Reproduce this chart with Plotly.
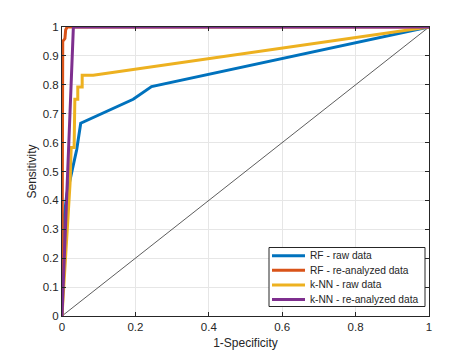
import plotly.graph_objects as go

rf_raw_x = [0, 0.005, 0.013, 0.04, 0.051, 0.194, 0.244, 1]
rf_raw_y = [0, 0.33, 0.42, 0.575, 0.667, 0.75, 0.794, 1]

rf_re_x = [0, 0.002, 0.008, 0.01, 0.014, 0.02, 1]
rf_re_y = [0, 0.95, 0.96, 0.99, 1, 1, 1]

knn_raw_x = [0, 0.015, 0.022, 0.025, 0.033, 0.035, 0.043, 0.043, 0.055, 0.055, 0.085, 1]
knn_raw_y = [0, 0.3, 0.46, 0.583, 0.583, 0.75, 0.75, 0.792, 0.792, 0.833, 0.833, 1]

knn_re_x = [0, 0.031, 1]
knn_re_y = [0, 1, 1]

diag_x = [0, 1]
diag_y = [0, 1]

x_ticks = [0, 0.2, 0.4, 0.6, 0.8, 1]
x_labels = ["0", "0.2", "0.4", "0.6", "0.8", "1"]
y_ticks = [0, 0.1, 0.2, 0.3, 0.4, 0.5, 0.6, 0.7, 0.8, 0.9, 1]
y_labels = ["0", "0.1", "0.2", "0.3", "0.4", "0.5", "0.6", "0.7", "0.8", "0.9", "1"]

series_names = ["RF - raw data", "RF - re-analyzed data", "k-NN - raw data", "k-NN - re-analyzed data"]
series_x = [rf_raw_x, rf_re_x, knn_raw_x, knn_re_x]
series_y = [rf_raw_y, rf_re_y, knn_raw_y, knn_re_y]
series_colors = ["#0072BD", "#D95319", "#EDB120", "#7E2F8E"]

FONT = "Liberation Sans, Arial, Helvetica, sans-serif"
TXT = "#262626"

fig = go.Figure()
fig.add_trace(go.Scatter(x=diag_x, y=diag_y, mode="lines", showlegend=False,
                         line=dict(color="#333333", width=0.8), hoverinfo="skip"))
for name, xs, ys, col in zip(series_names, series_x, series_y, series_colors):
    fig.add_trace(go.Scatter(x=xs, y=ys, mode="lines", name=name, showlegend=False,
                             line=dict(color=col, width=3)))

axis_common = dict(
    range=[0, 1], showgrid=True, gridcolor="#e6e6e6", gridwidth=1,
    zeroline=False, showline=True, linecolor=TXT, linewidth=1,
    mirror="ticks", ticks="inside", ticklen=4, tickcolor=TXT,
    tickfont=dict(family=FONT, size=11.5, color=TXT), automargin=False,
)

# Legend drawn as a box with line samples and text labels (MATLAB-style compact legend)
W, H = 474, 355
L, R, T, B = 62, 45, 27, 39
pw, ph = W - L - R, H - T - B

def px2x(px):
    return (px - L) / pw

def py2y(py):
    return (H - B - py) / ph

shapes = [dict(type="rect", xref="paper", yref="paper",
               x0=px2x(269), x1=px2x(425), y0=py2y(306.5), y1=py2y(247.5),
               line=dict(color=TXT, width=1), fillcolor="white", layer="above")]
annotations = []
row_py = [255.7, 270.3, 284.9, 299.5]
for name, col, rp in zip(series_names, series_colors, row_py):
    shapes.append(dict(type="line", xref="paper", yref="paper",
                       x0=px2x(272), x1=px2x(305), y0=py2y(rp), y1=py2y(rp),
                       line=dict(color=col, width=3), layer="above"))
    annotations.append(dict(xref="paper", yref="paper", x=px2x(307.5), y=py2y(rp),
                            xanchor="left", yanchor="middle", text=name, showarrow=False,
                            font=dict(family=FONT, size=10.2, color=TXT)))

fig.update_layout(
    width=W, height=H,
    margin=dict(l=L, r=R, t=T, b=B),
    paper_bgcolor="white", plot_bgcolor="white",
    font=dict(family=FONT, color=TXT),
    showlegend=False,
    xaxis=dict(**axis_common, tickvals=x_ticks, ticktext=x_labels,
               title=dict(text="1-Specificity", font=dict(size=12), standoff=6)),
    yaxis=dict(**axis_common, tickvals=y_ticks, ticktext=y_labels,
               title=dict(text="Sensitivity", font=dict(size=12), standoff=3)),
    shapes=shapes,
    annotations=annotations,
)

fig.write_html("out.html", config={"displayModeBar": False, "staticPlot": True},
               post_script="document.body.style.margin='0';document.body.style.overflow='hidden';")
